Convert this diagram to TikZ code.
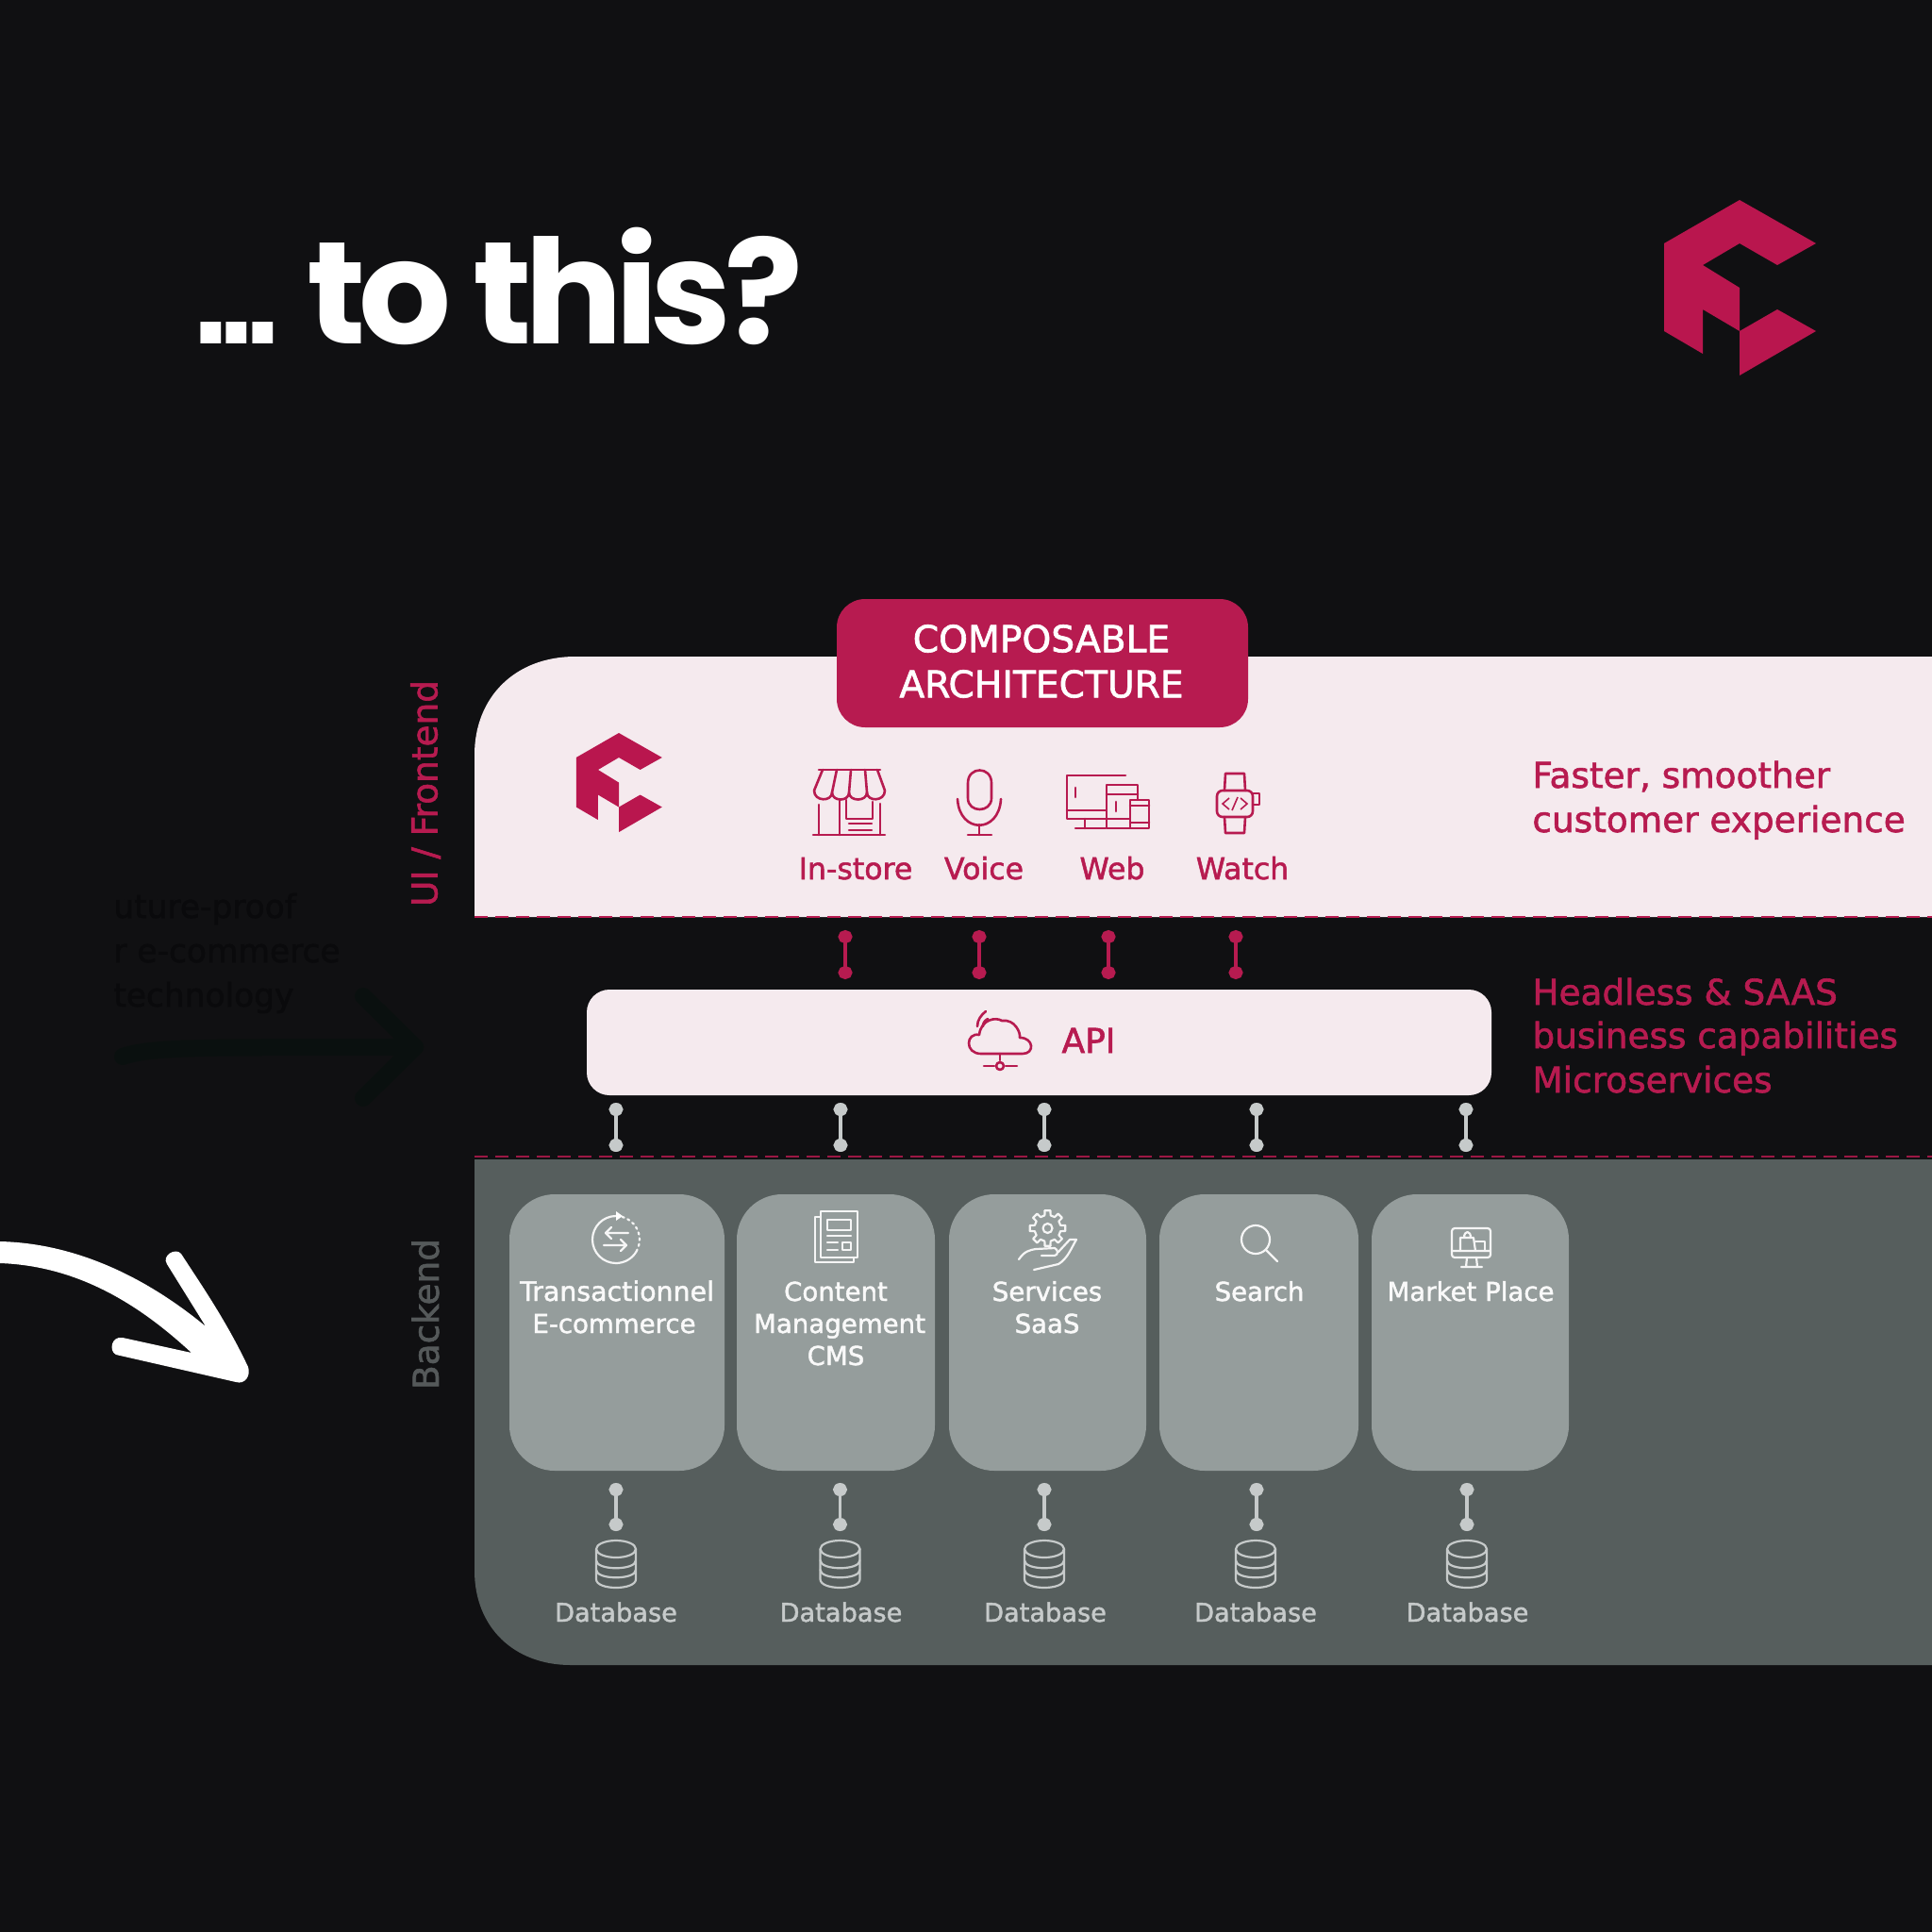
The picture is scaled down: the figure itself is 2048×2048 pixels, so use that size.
\documentclass[tikz,border=0pt]{standalone}
\usepackage{fontspec}
\setmainfont[FakeBold=1.6]{DejaVu Sans}
\newfontfamily\titlefont[LetterSpace=-5]{Poppins}
\newfontfamily\dotfont[LetterSpace=-10]{Liberation Sans}
\usetikzlibrary{arrows.meta,calc}
\definecolor{bgc}{HTML}{101012}
\definecolor{pk}{HTML}{B71B50}
\definecolor{logoc}{HTML}{B9164E}
\definecolor{pale}{HTML}{F5EAEE}
\definecolor{bk}{HTML}{565E5D}
\definecolor{cardc}{HTML}{959D9C}
\definecolor{gy}{HTML}{C6CACA}
\definecolor{ghost}{HTML}{0A0A0C}
\definecolor{ghostg}{HTML}{0A100F}
\definecolor{sidegrey}{HTML}{55595A}
\tikzset{
  x=0.5pt,y=-0.5pt,
  pkline/.style={draw=pk,line width=1.3pt,line cap=round,line join=round},
  gyline/.style={draw=#1,line width=1.1pt,line cap=round,line join=round},
  gyline/.default=gy,
  wline/.style={draw=white!92!gray,line width=1.1pt,line cap=round,line join=round},
  lab/.style={inner sep=0pt,anchor=base,font=\fontsize{15.8}{18}\selectfont},
  pklab/.style={lab,text=pk},
  cardlab/.style={lab,text=white!95!gray,font=\fontsize{13.8}{16}\selectfont},
  dblab/.style={lab,text=gy,font=\fontsize{13.6}{16}\selectfont},
  rightlab/.style={inner sep=0pt,anchor=base west,text=pk,font=\fontsize{18.7}{20}\selectfont},
  sidelab/.style={inner sep=0pt,rotate=90,font=\fontsize{18.7}{20}\selectfont},
  ghostlab/.style={inner sep=0pt,anchor=base west,text=ghost,font=\fontsize{17.2}{20}\selectfont},
  cardbox/.style={fill=cardc,rounded corners=24pt},
  pkconn/.style={draw=pk,line width=2pt,{Circle[length=7pt,width=7.5pt]}-{Circle[length=7pt,width=7.5pt]}},
  gyconn/.style={draw=gy,line width=1.7pt,{Circle[length=7pt,width=7.5pt]}-{Circle[length=7pt,width=7.5pt]}},
  dbicon/.pic={
    \draw[gyline] (-21,-16) -- (-21,16) .. controls (-21,28) and (21,28) .. (21,16) -- (21,-16);
    \draw[gyline] (0,-16) ellipse (21 and 9);
    \draw[gyline] (-21,-4) .. controls (-21,7) and (21,7) .. (21,-4);
    \draw[gyline] (-21,6) .. controls (-21,17) and (21,17) .. (21,6);
  },
  logomark/.pic={
    \fill[logoc] (0,0) -- (81,46) -- (40,69) -- (0,46) -- (-39,69) -- (0,93) -- (0,139) -- (-39,116) -- (-39,163) -- (-80,139) -- (-80,46) -- cycle;
    \fill[logoc] (0,139) -- (40,116) -- (81,139) -- (0,186) -- cycle;
  },
}
\begin{document}
\begin{tikzpicture}
\useasboundingbox (0,0) rectangle (2048,2048);
\fill[bgc] (0,0) rectangle (2048,2048);

% title and big logo
\node[inner sep=0pt,anchor=base west,text=white] (title) at (202,365)
  {\fontsize{77}{80}\selectfont\spaceskip=11.5pt\relax{\dotfont\bfseries ...}\kern-7pt\relax{} {\titlefont\bfseries to this?}};
\pic at (1844,212) {logomark};

% ghost text and arrow
\node[ghostlab] (g1) at (120,973) {uture-proof};
\node[ghostlab] (g2) at (120,1020) {r e-commerce};
\node[ghostlab] (g3) at (120,1067) {technology};
\draw[ghostg,line width=9pt,line cap=round,line join=round]
  (130,1120) .. controls (160,1110) and (200,1110) .. (440,1110);
\draw[ghostg,line width=9pt,line cap=round,line join=round]
  (385,1056) -- (440,1110) -- (385,1164);

% white hand-drawn arrow
\fill[white] (0,1316) .. controls (85,1318) and (160,1358) .. (218,1406)
  -- (177,1340) .. controls (171,1331) and (186,1322) .. (192,1329)
  .. controls (212,1360) and (240,1400) .. (263,1449)
  .. controls (266,1458) and (260,1468) .. (250,1465)
  -- (123,1436) .. controls (115,1432) and (118,1416) .. (130,1418)
  -- (203,1434) .. controls (150,1385) and (85,1342) .. (0,1339) -- cycle;

% panels
\fill[pale] (2048,696) -- (610,696) .. controls (545,696) and (503,740) .. (503,800) -- (503,972) -- (2048,972) -- cycle;
\fill[bk] (2048,1229) -- (503,1229) -- (503,1665) .. controls (503,1725) and (545,1765) .. (605,1765) -- (2048,1765) -- cycle;
\draw[pk,line width=1pt,dash pattern=on 7pt off 4pt] (503,972) -- (2048,972);
\draw[pk!85!black,line width=1pt,dash pattern=on 7pt off 4pt] (503,1226) -- (2048,1226);

% side labels
\node[sidelab,text=pk] (uif) at (451,841) {UI / Frontend};
\node[sidelab,text=sidegrey] (bkend) at (451,1393) {Backend};

% badge
\fill[pk,rounded corners=15pt] (887,635) rectangle (1323,771);
\node[inner sep=0pt,text=white,font=\fontsize{19.6}{24}\selectfont,align=center] (badge) at (1104,701) {COMPOSABLE\\ARCHITECTURE};

% small logo
\pic[scale=0.565] at (656,777) {logomark};

% channel labels
\node[pklab] (instore) at (907,932) {In-store};
\node[pklab] (voice) at (1043,932) {Voice};
\node[pklab] (web) at (1179,932) {Web};
\node[pklab] (watch) at (1317,932) {Watch};

% store icon
\draw[pkline] (868,816) -- (933,816);
\draw[pkline] (872,816) -- (863,838) (887,816) -- (882,840) (902,816) -- (900,840) (917,816) -- (919,840) (930,816) -- (938,838);
\draw[pkline] (863,838) .. controls (863,850) and (882,850) .. (882,840) .. controls (882,850) and (900,850) .. (900,840) .. controls (900,850) and (919,850) .. (919,840) .. controls (919,850) and (938,850) .. (938,838);
\draw[pkline] (868,853) -- (868,885) (933,852) -- (933,885) (862,885) -- (938,885);
\draw[pkline] (890,848) -- (890,885) (897,848) -- (897,868) -- (925,868) -- (925,850) (900,873) -- (924,873) (900,880) -- (924,880);
% mic icon
\draw[pkline] (1026,830) .. controls (1026,812) and (1051,812) .. (1051,830) -- (1051,846) .. controls (1051,862) and (1026,862) .. (1026,846) -- cycle;
\draw[pkline] (1015,847) .. controls (1017,884) and (1059,884) .. (1061,847);
\draw[pkline] (1038,874) -- (1038,885) (1026,885) -- (1051,885);
% devices icon
\draw[pkline] (1193,822) -- (1131,822) -- (1131,868) -- (1173,868);
\draw[pkline] (1131,859) -- (1172,859) (1150,868) -- (1150,878) (1140,878) -- (1172,878);
\draw[pkline] (1173,832) rectangle (1206,878);
\draw[pkline] (1173,842) -- (1206,842) (1173,868) -- (1198,868);
\draw[pkline,fill=pale] (1198,848) rectangle (1218,878);
\draw[pkline] (1198,854) -- (1218,854) (1198,872) -- (1218,872);
\draw[pkline] (1140,835) -- (1140,845) (1183,850) -- (1183,860);
% watch icon
\draw[pkline,rounded corners=3pt] (1290,838) rectangle (1328,866);
\draw[pkline] (1298,838) -- (1299,820) -- (1319,820) -- (1320,838) (1298,866) -- (1299,883) -- (1319,883) -- (1320,866);
\draw[pkline] (1328,841) -- (1335,841) -- (1335,853) -- (1328,853);
\draw[pk,line width=0.8pt] (1303,846) -- (1296,852) -- (1303,858) (1315,846) -- (1322,852) -- (1315,858) (1312,845) -- (1306,859);

% right-hand labels
\node[rightlab] (r1) at (1624,835) {Faster, smoother};
\node[rightlab] (r2) at (1624,882) {customer experience};
\node[rightlab] (r3) at (1624,1065) {Headless \& SAAS};
\node[rightlab] (r4) at (1624,1111) {business capabilities};
\node[rightlab] (r5) at (1624,1158) {Microservices};

% API bar
\fill[pale,rounded corners=12pt] (622,1049) rectangle (1581,1161);
\node[pklab,font=\fontsize{18}{20}\selectfont] (api) at (1154,1116) {API};
\draw[pkline] (1040,1117) .. controls (1022,1117) and (1024,1094) .. (1038,1097)
  .. controls (1040,1080) and (1056,1078) .. (1062,1082)
  .. controls (1076,1080) and (1082,1095) .. (1081,1100)
  .. controls (1096,1100) and (1097,1117) .. (1084,1117) -- cycle;
\draw[pkline] (1060,1117) -- (1060,1124) (1043,1130) -- (1054,1130) (1066,1130) -- (1078,1130);
\draw[pkline] (1060,1130) circle (4);
\draw[pkline] (1036,1088) .. controls (1036,1081) and (1040,1076) .. (1045,1072);
\draw[pkline] (1042,1088) .. controls (1042,1084) and (1044,1082) .. (1047,1080);

% pink connectors
\foreach \xx [count=\i] in {896,1038,1175,1310}{
  \coordinate (pa\i) at (\xx,986);
  \coordinate (pb\i) at (\xx,1038);
  \draw[pkconn] (pa\i) -- (pb\i);
}
% grey connectors under API
\foreach \xx [count=\i] in {653,891,1107,1332,1554}{
  \coordinate (ga\i) at (\xx,1169);
  \coordinate (gb\i) at (\xx,1221);
  \draw[gyconn] (ga\i) -- (gb\i);
}

% cards
\fill[cardbox] (540,1266) rectangle (768,1559);
\fill[cardbox] (781,1266) rectangle (991,1559);
\fill[cardbox] (1006,1266) rectangle (1215,1559);
\fill[cardbox] (1229,1266) rectangle (1440,1559);
\fill[cardbox] (1454,1266) rectangle (1663,1559);

\node[cardlab,font=\fontsize{14.2}{16}\selectfont] (c1a) at (654,1379) {Transactionnel};
\node[cardlab] (c1b) at (651,1413) {E-commerce};
\node[cardlab] (c2a) at (886,1379) {Content};
\node[cardlab] (c2b) at (890,1413) {Management};
\node[cardlab] (c2c) at (886,1447) {CMS};
\node[cardlab] (c3a) at (1110,1379) {Services};
\node[cardlab] (c3b) at (1110,1413) {SaaS};
\node[cardlab] (c4a) at (1335,1379) {Search};
\node[cardlab] (c5a) at (1559,1379) {Market Place};

% exchange icon
\draw[wline] (653,1289) arc (270:90:25);
\draw[wline] (653,1339) arc (90:30:25);
\draw[wline,dotted] (674.6,1326.5) arc (30:-75:25);
\fill[white] (653,1284) -- (660,1289) -- (653,1294) -- cycle;
\draw[wline] (666,1307) -- (642,1307) (648,1301) -- (642,1307) -- (648,1313);
\draw[wline] (640,1320) -- (664,1320) (658,1314) -- (664,1320) -- (658,1326);
% document icon
\draw[wline] (870,1284) rectangle (909,1333);
\draw[wline] (870,1290) -- (864,1290) -- (864,1338) -- (905,1338) -- (905,1333);
\draw[wline] (877,1293) rectangle (902,1304) (877,1310) -- (902,1310) (877,1317) -- (888,1317) (877,1325) -- (888,1325);
\draw[wline] (893,1317) rectangle (902,1325);
% gear and hand icon
\draw[wline] (1110.5,1302) circle (5);
\foreach \a in {0,45,...,315}{
  \draw[wline] ($(1110.5,1302)+(\a-9:19)$) -- ($(1110.5,1302)+(\a+9:19)$) -- ($(1110.5,1302)+(\a+13:14)$) -- ($(1110.5,1302)+(\a+32:14)$) -- ($(1110.5,1302)+(\a+36:19)$);
}
\draw[wline] (1080,1335) .. controls (1086,1326) and (1092,1325) .. (1098,1324) -- (1118,1323) .. controls (1122,1325) and (1122,1330) .. (1118,1331) -- (1104,1331);
\draw[wline] (1096,1346) -- (1122,1340) .. controls (1132,1334) and (1136,1322) .. (1141,1314) -- (1134,1314) -- (1122,1327);
% search icon
\draw[wline] (1331,1314) circle (15);
\draw[wline] (1342,1325) -- (1354,1337);
% marketplace icon
\draw[wline,rounded corners=1.5pt] (1539,1302) rectangle (1580,1333);
\draw[wline] (1539,1326) -- (1580,1326) (1555,1333) -- (1554,1343) (1565,1333) -- (1566,1343) (1549,1343) -- (1571,1343);
\draw[wline] (1548,1326) -- (1548,1312) -- (1562,1312) -- (1564,1326) (1552,1312) .. controls (1552,1304) and (1559,1304) .. (1559,1312);
\draw[wline] (1564,1316) -- (1574,1316) -- (1574,1326);

% lower connectors, databases, labels
\foreach \xx/\dx/\lx [count=\i] in {653/653/653, 890.5/890.5/891.5, 1107/1107/1108, 1332/1331/1331, 1555/1555/1555.5}{
  \coordinate (da\i) at (\xx,1572);
  \coordinate (db\i) at (\xx,1623);
  \draw[gyconn] (da\i) -- (db\i);
  \pic at (\dx,1658) {dbicon};
  \node[dblab] (dl\i) at (\lx,1719) {Database};
}
\end{tikzpicture}
\end{document}
